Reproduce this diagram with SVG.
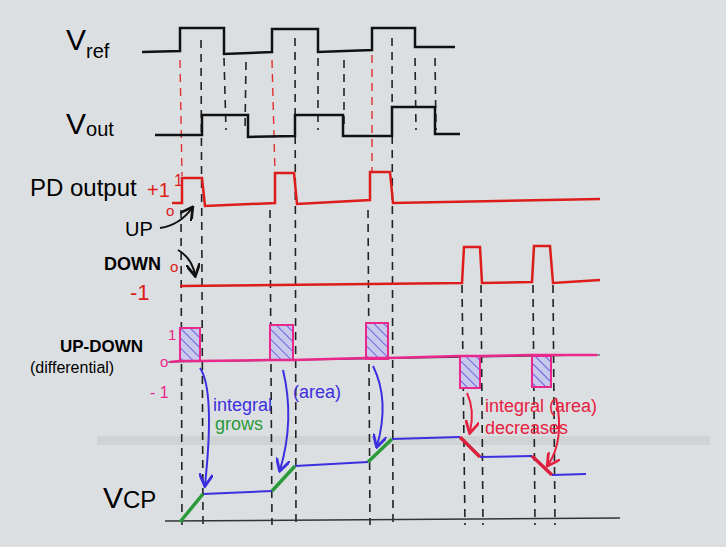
<svg xmlns="http://www.w3.org/2000/svg" width="726" height="547" viewBox="0 0 726 547">
<defs>
<pattern id="hatch" patternUnits="userSpaceOnUse" width="7" height="7" patternTransform="rotate(-45)">
<rect width="7" height="7" fill="#c9c9ec"/><line x1="0" y1="0" x2="0" y2="7" stroke="#4a3fe0" stroke-width="1.5"/></pattern>
<marker id="ab" viewBox="0 0 10 10" refX="8" refY="5" markerWidth="7" markerHeight="7" orient="auto"><path d="M0,0 L9,5 L0,10" fill="none" stroke="#3b2fe0" stroke-width="2"/></marker>
<marker id="ar" viewBox="0 0 10 10" refX="8" refY="5" markerWidth="7" markerHeight="7" orient="auto"><path d="M0,0 L9,5 L0,10" fill="none" stroke="#e82040" stroke-width="2"/></marker>
<marker id="ak" viewBox="0 0 10 10" refX="8" refY="5" markerWidth="7" markerHeight="7" orient="auto"><path d="M0,0 L9,5 L0,10" fill="none" stroke="#111" stroke-width="2"/></marker>
</defs>
<style>
.t{font-family:"Liberation Sans",sans-serif}
.k{fill:none;stroke:#111;stroke-width:2.5}
.r{fill:none;stroke:#dd1c1c;stroke-width:2.5}
.p{fill:none;stroke:#e8288a;stroke-width:2.5}
.dk{stroke:#222;stroke-width:1.6;stroke-dasharray:8 6}
.dr{stroke:#e03030;stroke-width:1.4;stroke-dasharray:8 6}
.bl{fill:none;stroke:#3b2fe0;stroke-width:2}
.gr{fill:none;stroke:#2a9a3a;stroke-width:3.5}
.rd{fill:none;stroke:#d8203c;stroke-width:3.5}
</style>
<rect width="726" height="547" fill="#dcdfe2"/>
<rect x="97" y="436" width="613" height="9" fill="#cfd3d3"/>
<g id="connectors">
<line class="dr" x1="180" y1="60" x2="182" y2="176"/>
<line class="dr" x1="272" y1="60" x2="275" y2="174"/>
<line class="dr" x1="372" y1="55" x2="372" y2="172"/>
<g class="dk">
<line x1="201" y1="40" x2="203" y2="525"/>
<line x1="224" y1="58" x2="226" y2="130"/><line x1="246" y1="62" x2="245" y2="130"/>
<line x1="295" y1="38" x2="296" y2="525"/>
<line x1="318" y1="58" x2="318" y2="130"/><line x1="344" y1="60" x2="344" y2="130"/>
<line x1="392" y1="38" x2="393" y2="525"/>
<line x1="415" y1="58" x2="416" y2="130"/><line x1="435" y1="58" x2="436" y2="130"/>
<line x1="181" y1="210" x2="182" y2="525"/>
<line x1="270" y1="210" x2="272" y2="525"/>
<line x1="368" y1="210" x2="370" y2="525"/>
<line x1="462" y1="285" x2="465" y2="525"/><line x1="481" y1="285" x2="483" y2="525"/>
<line x1="533" y1="285" x2="535" y2="525"/><line x1="553" y1="285" x2="555" y2="525"/>
</g>
</g>
<g id="vref"><text class="t" x="66" y="50" font-size="30">V<tspan font-size="20" dy="8">ref</tspan></text>
<polyline class="k" points="142,52 180,51 180,28 224,28 224,54 272,52 272,29 318,29 318,52 372,50 372,28 415,28 415,47 455,47"/></g>
<g id="vout"><text class="t" x="66" y="134" font-size="30">V<tspan font-size="20" dy="2">out</tspan></text>
<polyline class="k" points="155,135 202,135 202,115 248,115 248,137 295,136 295,115 343,115 343,136 392,136 392,107 435,107 435,134 460,134"/></g>
<g id="pd"><text class="t" x="30" y="196" font-size="24">PD output</text>
<text class="t" x="147" y="197" font-size="20" fill="#dd1c1c">+1</text>
<text class="t" x="174" y="186" font-size="16" fill="#dd1c1c">1</text>
<text class="t" x="166" y="216" font-size="15" fill="#dd1c1c">o</text>
<text class="t" x="125" y="236" font-size="20">UP</text>
<path d="M160,228 Q180,225 192,208" fill="none" stroke="#111" stroke-width="2" marker-end="url(#ak)"/>
<polyline class="r" points="172,203 182,203 182,178 202,178 205,206 275,203 275,173 294,173 297,204 370,200 370,172 390,172 393,203 600,199"/></g>
<g id="down"><text class="t" x="104" y="270" font-size="18" font-weight="bold">DOWN</text>
<text class="t" x="170" y="272" font-size="15" fill="#dd1c1c">o</text>
<text class="t" x="130" y="300" font-size="22" fill="#dd1c1c">-1</text>
<path d="M178,250 Q192,258 195,275" fill="none" stroke="#111" stroke-width="2" marker-end="url(#ak)"/>
<polyline class="r" points="180,286 462,283 464,247 480,247 482,283 532,282 534,246 550,246 553,283 600,280"/></g>
<g id="updown"><text class="t" x="60" y="352" font-size="17" font-weight="bold">UP-DOWN</text>
<text class="t" x="30" y="373" font-size="16">(differential)</text>
<text class="t" x="168" y="340" font-size="15" fill="#e8288a">1</text>
<text class="t" x="160" y="367" font-size="15" fill="#e8288a">o</text>
<text class="t" x="150" y="398" font-size="16" fill="#e8288a">- 1</text>
<line x1="168" y1="362" x2="600" y2="355" stroke="#333" stroke-width="1.2"/>
<rect x="180" y="328" width="20" height="33" fill="url(#hatch)" stroke="#e8288a" stroke-width="2"/>
<rect x="270" y="325" width="23" height="35" fill="url(#hatch)" stroke="#e8288a" stroke-width="2"/>
<rect x="366" y="323" width="22" height="36" fill="url(#hatch)" stroke="#e8288a" stroke-width="2"/>
<rect x="460" y="356" width="20" height="32" fill="url(#hatch)" stroke="#e8288a" stroke-width="2"/>
<rect x="532" y="356" width="19" height="31" fill="url(#hatch)" stroke="#e8288a" stroke-width="2"/>
<polyline class="p" points="170,362 180,361 200,361 270,360 293,360 366,358 388,358 460,356 480,356 532,355 551,355 597,355"/></g>
<g id="annotations">
<path d="M200,368 Q215,390 205,485" class="bl" marker-end="url(#ab)"/>
<path d="M283,370 Q295,420 280,470" class="bl" marker-end="url(#ab)"/>
<path d="M373,366 Q390,400 377,446" class="bl" marker-end="url(#ab)"/>
<text class="t" x="213" y="411" font-size="18" fill="#3b2fe0">integral</text>
<text class="t" x="293" y="398" font-size="18" fill="#3b2fe0">(area)</text>
<text class="t" x="215" y="430" font-size="18" fill="#2a9a3a">grows</text>
<path d="M467,393 Q475,410 470,432" fill="none" stroke="#e82040" stroke-width="2" marker-end="url(#ar)"/>
<path d="M556,398 Q565,440 548,465" fill="none" stroke="#e82040" stroke-width="2" marker-end="url(#ar)"/>
<text class="t" x="485" y="412" font-size="18" fill="#e82040">integral (area)</text>
<text class="t" x="485" y="434" font-size="18" fill="#e82040">decreases</text>
</g>
<g id="vcp"><text class="t" x="103" y="508" font-size="30">V<tspan font-size="24">CP</tspan></text>
<line x1="165" y1="521" x2="620" y2="518" stroke="#333" stroke-width="1.5"/>
<polyline class="bl" points="203,494 272,491"/><polyline class="bl" points="295,466 368,462"/>
<polyline class="bl" points="392,439 460,437"/><polyline class="bl" points="480,457 532,456"/><polyline class="bl" points="552,475 586,474"/>
<line class="gr" x1="180" y1="522" x2="203" y2="494"/>
<line class="gr" x1="272" y1="491" x2="295" y2="466"/>
<line class="gr" x1="368" y1="462" x2="392" y2="439"/>
<line class="rd" x1="460" y1="437" x2="480" y2="457"/>
<line class="rd" x1="532" y1="456" x2="552" y2="475"/></g>
</svg>
